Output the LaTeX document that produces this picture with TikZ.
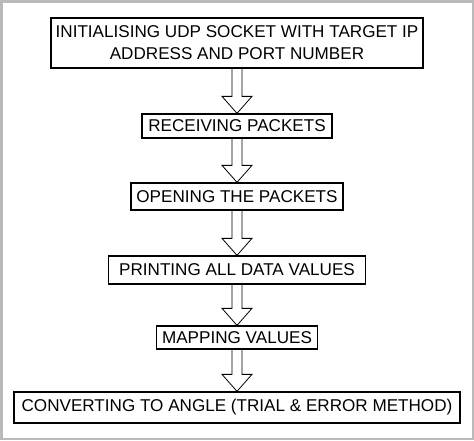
\documentclass[tikz,border=0pt]{standalone}
\usepackage{fontspec}
\setmainfont{Liberation Sans}
\usepackage{tikz}
\usetikzlibrary{calc}
\definecolor{framegray}{RGB}{185, 185, 185}

\tikzset{stagebox/.style={draw, line width=1.3pt, inner sep=0pt, align=center,
  font=\fontsize{17.1}{22}\selectfont}}
\newcommand{\hollowarrow}[2]{%
\draw[line width=0.8pt] ($(#1.south)+(-5,0)$)--($(#2.north)+(-5,-17)$)--($(#2.north)+(-15,-17)$)
  --(#2.north)--($(#2.north)+(15,-17)$)--($(#2.north)+(5,-17)$)--($(#1.south)+(5,0)$);}

\begin{document}
\begin{tikzpicture}[x=1pt,y=-1pt]
\useasboundingbox (0,0) rectangle (474,440);
\draw[framegray, line width=2.5pt] (1.25,1.25) rectangle (472.75,438.75);
\node[stagebox, minimum width=372, minimum height=50] (init) at (237,43) {INITIALISING UDP SOCKET WITH TARGET IP\\ADDRESS AND PORT NUMBER};
\node[stagebox, minimum width=190, minimum height=24] (recv) at (237,126) {RECEIVING PACKETS};
\node[stagebox, minimum width=212, minimum height=27] (open) at (237,196.5) {OPENING THE PACKETS};
\node[stagebox, minimum width=257, minimum height=28] (print) at (237,270) {PRINTING ALL DATA VALUES};
\node[stagebox, minimum width=161, minimum height=23] (map) at (237,337.5) {MAPPING VALUES};
\node[stagebox, minimum width=446, minimum height=31] (conv) at (237,407.5) {CONVERTING TO ANGLE (TRIAL \& ERROR METHOD)};
\hollowarrow{init}{recv}
\hollowarrow{recv}{open}
\hollowarrow{open}{print}
\hollowarrow{print}{map}
\hollowarrow{map}{conv}
\end{tikzpicture}
\end{document}
